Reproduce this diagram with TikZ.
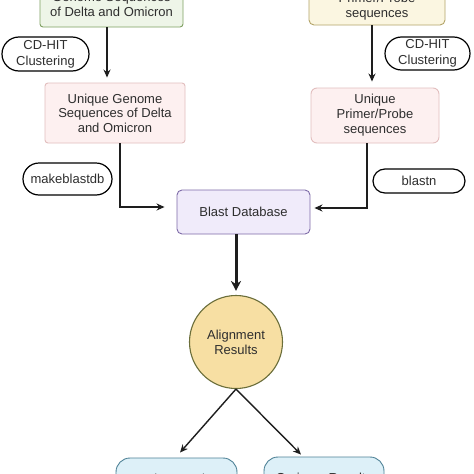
\documentclass[tikz,border=0pt]{standalone}
\usepackage{fontspec}
\setmainfont{Liberation Sans}
\usetikzlibrary{arrows.meta,calc}
\definecolor{txt}{HTML}{2E2E2E}
\definecolor{arrc}{HTML}{1E1E1E}
\definecolor{gfill}{HTML}{EEF5E8}
\definecolor{gline}{HTML}{7FA062}
\definecolor{yfill}{HTML}{FBF6E1}
\definecolor{yline}{HTML}{B3A468}
\definecolor{pfill}{HTML}{FDF0F0}
\definecolor{pline}{HTML}{E2BEBE}
\definecolor{lfill}{HTML}{F0EBFA}
\definecolor{lline}{HTML}{7E6BA8}
\definecolor{cfill}{HTML}{F7DFA3}
\definecolor{cline}{HTML}{6B6E3A}
\definecolor{bfill}{HTML}{DDF0F8}
\definecolor{bline}{HTML}{4F8297}
\begin{document}
\begin{tikzpicture}[x=1pt,y=-1pt,
  every node/.style={font=\fontsize{13}{15}\selectfont, text=txt, align=center, inner sep=0pt},
  box/.style={draw, line width=0.9pt, rounded corners=3pt},
  pill/.style={draw=black, line width=1.2pt, fill=white},
  arr/.style={draw=arrc, line width=1.4pt, -{Stealth[length=8pt,width=7pt]}},
  thickarr/.style={draw=arrc, line width=3pt, -{Stealth[length=10pt,width=10pt]}}
]
\useasboundingbox (0,0) rectangle (474,474);
\clip (0,0) rectangle (474,474);
\fill[white] (0,0) rectangle (474,474);

% top boxes (partly outside the frame)
\node[box, fill=gfill, draw=gline, minimum width=143pt, minimum height=45pt] (tl) at (111.5,4.5) {Genome Sequences\\of Delta and Omicron};
\node[box, fill=yfill, draw=yline, minimum width=136pt, minimum height=37pt, rounded corners=5pt] (tr) at (377,6.5) {Primer/Probe\\sequences};

% pills
\node[pill, rounded corners=17pt, minimum width=87pt, minimum height=34pt, font=\fontsize{13}{16}\selectfont] (cd1) at (45.5,54) {CD-HIT\\Clustering};
\node[pill, rounded corners=16.5pt, minimum width=85pt, minimum height=33pt, font=\fontsize{13}{16}\selectfont] (cd2) at (427.5,53.5) {CD-HIT\\Clustering};
\node[pill, rounded corners=16pt, minimum width=89pt, minimum height=32pt] (mk) at (67.5,179) {makeblastdb};
\node[pill, rounded corners=12pt, minimum width=92pt, minimum height=24pt] (bn) at (419,181) {blastn};

% middle boxes
\node[box, fill=pfill, draw=pline, minimum width=140pt, minimum height=60pt, font=\fontsize{13}{14.5}\selectfont] (ug) at (115,113) {Unique Genome\\Sequences of Delta\\and Omicron};
\node[box, fill=pfill, draw=pline, minimum width=128pt, minimum height=55pt, rounded corners=6pt, font=\fontsize{13}{15}\selectfont] (up) at (375,115.5) {Unique\\Primer/Probe\\sequences};

\node[box, fill=lfill, draw=lline, minimum width=133pt, minimum height=44pt, rounded corners=5pt] (bd) at (243.5,212) {Blast Database};

\node[circle, draw=cline, line width=1.1pt, fill=cfill, minimum size=93pt] (al) at (236,342) {Alignment\\Results};

\node[box, fill=bfill, draw=bline, rounded corners=14pt, minimum width=121pt, minimum height=42pt] (dr) at (176.5,479) {Delta Results};
\node[box, fill=bfill, draw=bline, rounded corners=14pt, minimum width=120pt, minimum height=42pt] (or) at (324,478) {Omicron Results};

% connectors
\draw[arr] ([xshift=-4.5pt]tl.south) -- ([xshift=-8pt,yshift=5pt]ug.north);
\draw[arr] ([xshift=-5pt]tr.south) -- ([xshift=-3pt,yshift=6pt]up.north);
\draw[arr] ([xshift=5pt]ug.south) |- ([xshift=-12pt,yshift=5pt]bd.west);
\draw[arr] ([xshift=-8pt]up.south) |- ([xshift=4pt,yshift=4pt]bd.east);
\draw[thickarr] (bd.south -| al.north) -- ([yshift=4pt]al.north);
\draw[arr] (al.south) -- ([xshift=3.5pt,yshift=5pt]dr.north);
\draw[arr] (al.south) -- ([xshift=-23pt,yshift=2pt]or.north);
\end{tikzpicture}
\end{document}
